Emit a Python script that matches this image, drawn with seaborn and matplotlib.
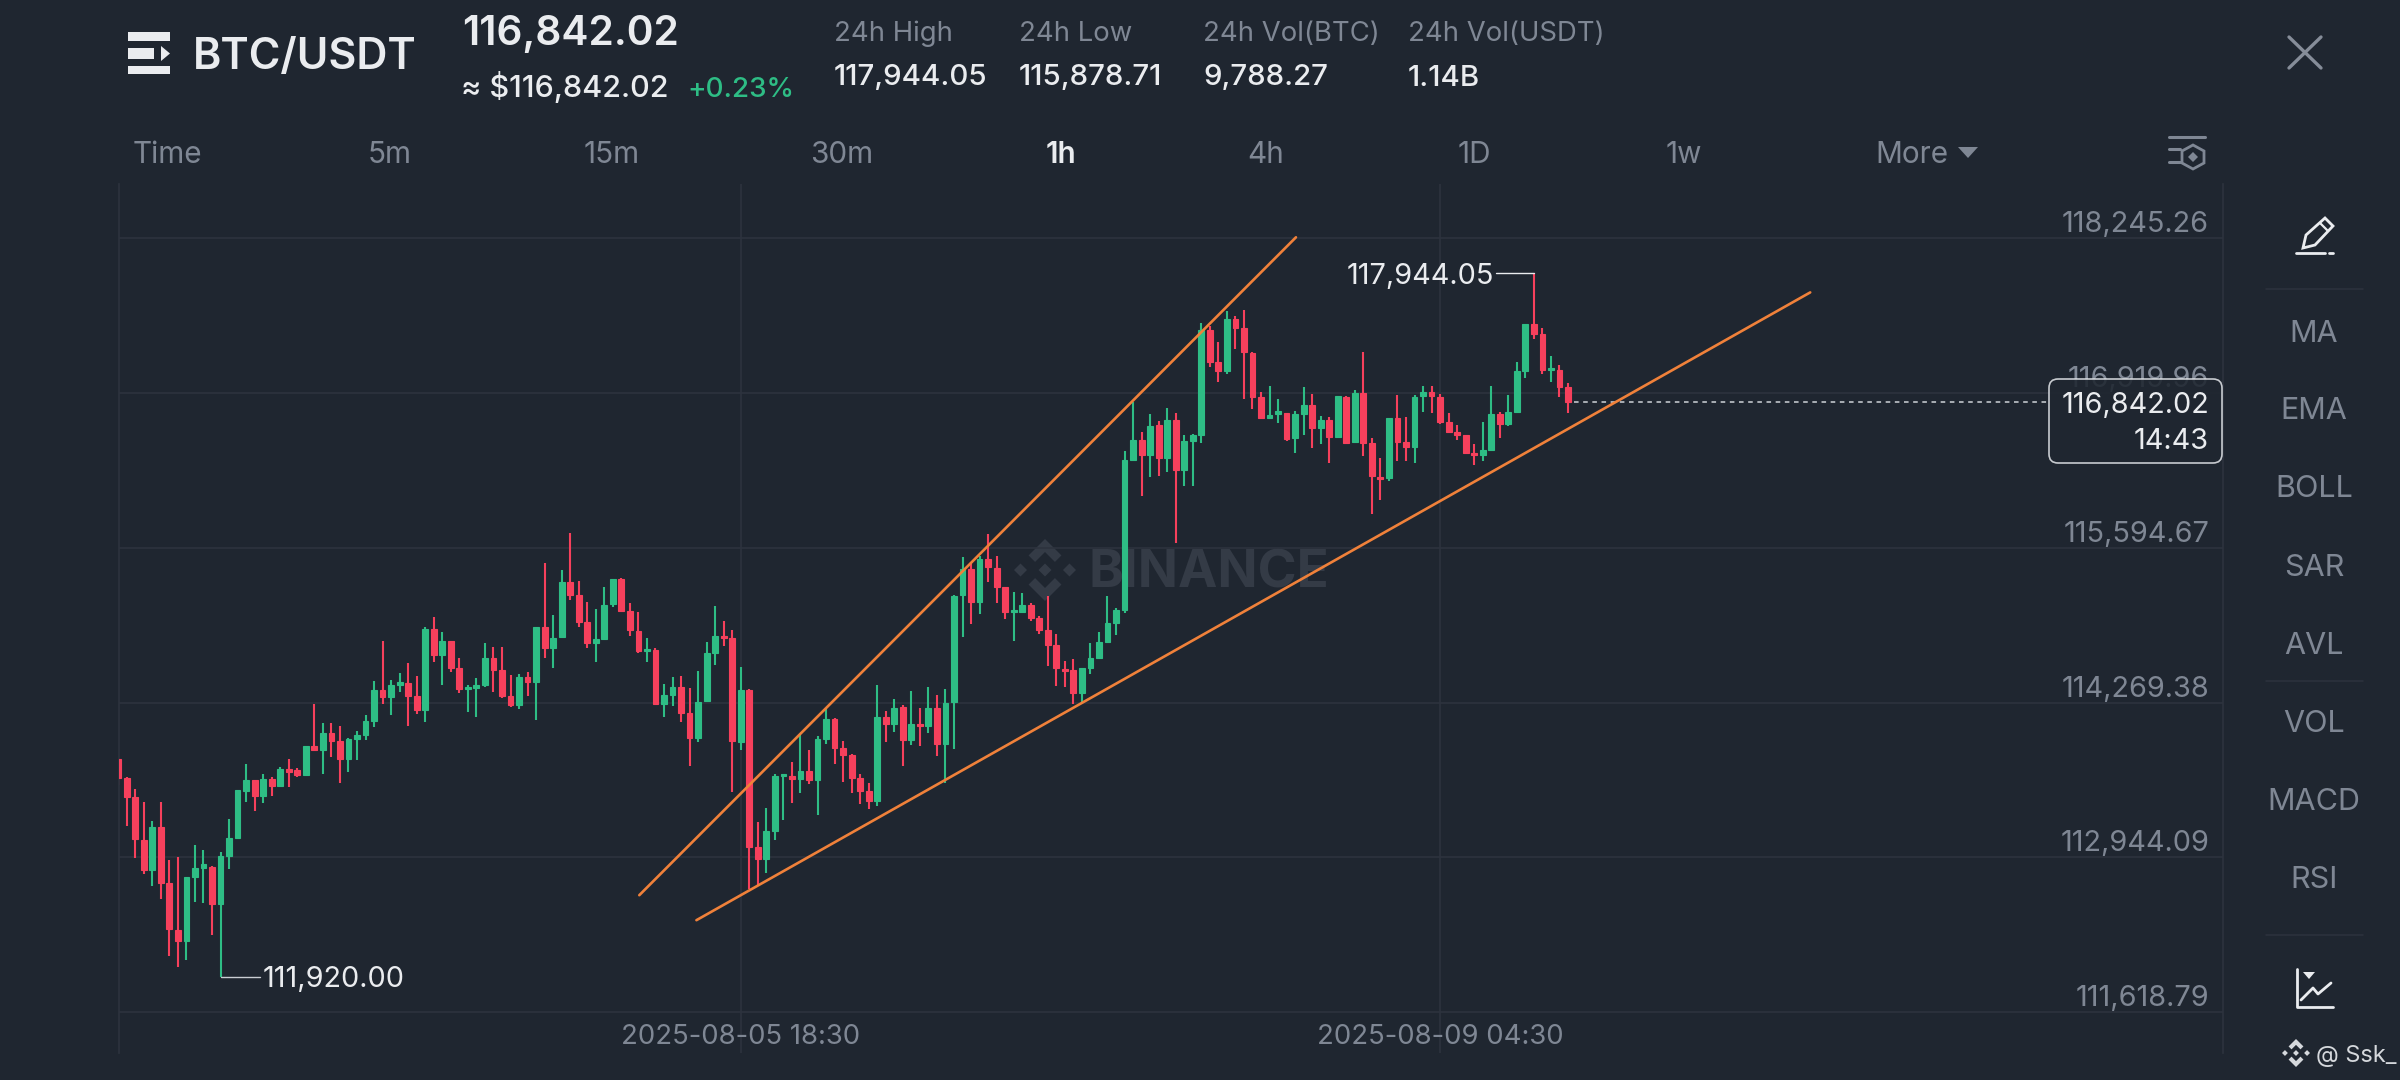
import numpy as np
import pandas as pd
import matplotlib.pyplot as plt
import seaborn as sns
from matplotlib.patches import FancyBboxPatch, Polygon

# Candles (BTC/USDT, 1h)
opens = [
    113786, 113620, 113457, 113096, 112839, 113199, 112721, 112324, 112226, 112779,
    112853, 112862, 112541, 112953, 113105, 113514, 113603, 113465, 113614, 113557,
    113697, 113691, 113651, 113898, 113860, 114006, 113938, 113789, 113958, 113992,
    114115, 114378, 114313, 114421, 114436, 114324, 114207, 114899, 114673, 114796,
    114567, 114381, 114390, 114421, 114650, 114547, 114324, 114250, 114490, 114444,
    114914, 114739, 114828, 115300, 115191, 114957, 114776, 114813, 115111, 115326,
    115051, 114885, 114708, 114719, 114258, 114335, 114404, 114178, 113966, 114281,
    114693, 114839, 114825, 113935, 114378, 113036, 112930, 113171, 113640, 113640,
    113614, 113686, 113606, 113961, 114127, 113878, 113820, 113620, 113508, 113428,
    114144, 114086, 114230, 113949, 114089, 114069, 114224, 113915, 114270, 115188,
    115412, 115134, 115497, 115423, 115257, 115048, 115045, 115105, 114991, 114888,
    114762, 114559, 114544, 114350, 114567, 114647, 114790, 114947, 115059, 116347,
    116518, 116392, 116644, 116364, 116690, 116264, 116513, 116564, 117463, 117182,
    117108, 117554, 117474, 117265, 116890, 116702, 116742, 116750, 116533, 116742,
    116816, 116621, 116687, 116547, 116890, 116501, 116919, 116493, 116204, 116195,
    116710, 116498, 116458, 116893, 116933, 116890, 116676, 116584, 116564, 116404,
    116387, 116433, 116739, 116653, 116759, 117111, 117511, 117426, 117114, 117117,
    116971,
]
closes = [
    113620, 113457, 113099, 112839, 113199, 112721, 112326, 112226, 112776, 112856,
    112882, 112541, 112953, 113105, 113517, 113603, 113465, 113614, 113557, 113697,
    113677, 113649, 113898, 113860, 114009, 113938, 113789, 113961, 113995, 114115,
    114378, 114313, 114421, 114444, 114324, 114207, 114902, 114673, 114796, 114567,
    114384, 114404, 114421, 114653, 114547, 114324, 114250, 114490, 114444, 114914,
    114739, 114825, 115300, 115194, 114959, 114779, 114811, 115108, 115326, 115051,
    114888, 114708, 114730, 114258, 114335, 114401, 114178, 113969, 114278, 114693,
    114839, 114819, 113938, 114378, 113036, 112930, 113171, 113640, 113657, 113617,
    113686, 113606, 113958, 114127, 113880, 113823, 113623, 113511, 113428, 114144,
    114086, 114224, 113949, 114089, 114069, 114224, 113915, 114267, 115185, 115414,
    115134, 115500, 115426, 115263, 115048, 115065, 115105, 114994, 114891, 114765,
    114567, 114542, 114350, 114564, 114647, 114785, 114947, 115062, 116347, 116518,
    116392, 116641, 116367, 116690, 116261, 116510, 116558, 117463, 117182, 117108,
    117554, 117474, 117268, 116890, 116702, 116736, 116762, 116530, 116742, 116816,
    116621, 116687, 116547, 116893, 116495, 116919, 116495, 116209, 116186, 116710,
    116501, 116458, 116890, 116933, 116893, 116676, 116584, 116564, 116404, 116387,
    116433, 116739, 116656, 116756, 117108, 117511, 117428, 117114, 117131, 116973,
    116842.02,
]
highs = [
    113786, 113629, 113526, 113417, 113256, 113414, 112919, 112942, 112776, 113053,
    113008, 112867, 112987, 113268, 113517, 113740, 113603, 113657, 113634, 113714,
    113786, 113709, 113898, 114258, 114095, 114095, 114064, 113963, 114026, 114161,
    114456, 114799, 114464, 114521, 114610, 114499, 114914, 114999, 114876, 114799,
    114650, 114418, 114479, 114776, 114748, 114742, 114504, 114516, 114533, 114914,
    115466, 115019, 115406, 115721, 115311, 115131, 115074, 115257, 115326, 115337,
    115125, 115045, 114825, 114736, 114427, 114484, 114499, 114393, 114539, 114791,
    115094, 114968, 114891, 114573, 114384, 113245, 113362, 113657, 113660, 113760,
    113992, 113860, 113986, 114221, 114135, 113943, 113829, 113654, 113577, 114416,
    114195, 114298, 114244, 114367, 114224, 114401, 114330, 114387, 115191, 115515,
    115475, 115523, 115715, 115523, 115260, 115220, 115208, 115120, 115014, 115185,
    114856, 114622, 114645, 114564, 114782, 114874, 115179, 115076, 116427, 116839,
    116587, 116742, 116679, 116790, 116747, 116558, 116570, 117523, 117497, 117354,
    117623, 117577, 117632, 117268, 116925, 116982, 116870, 116753, 116765, 116973,
    116916, 116724, 116713, 116896, 116893, 116945, 117274, 116538, 116367, 116710,
    116899, 116719, 116899, 116979, 116979, 116916, 116750, 116650, 116564, 116481,
    116676, 116982, 116756, 116902, 117182, 117511, 117944.05, 117474, 117240, 117157,
    117002,
]
lows = [
    113563, 113216, 112939, 112801, 112698, 112584, 112097, 112003, 112066, 112561,
    112552, 112275, 111920, 112842, 113099, 113417, 113339, 113405, 113468, 113557,
    113548, 113629, 113651, 113860, 113654, 113803, 113577, 113671, 113775, 113949,
    114061, 114258, 114164, 114361, 114064, 114175, 114106, 114619, 114418, 114527,
    114347, 114187, 114147, 114401, 114361, 114304, 114235, 114215, 114327, 114121,
    114653, 114562, 114828, 115148, 114914, 114733, 114616, 114813, 115088, 115051,
    114842, 114696, 114616, 114258, 114149, 114241, 114104, 113726, 113929, 114281,
    114587, 114750, 113500, 113866, 112675, 112704, 112813, 113093, 113259, 113405,
    113494, 113568, 113302, 113918, 113746, 113588, 113491, 113400, 113354, 113385,
    113932, 114021, 113729, 113906, 113898, 114006, 113809, 113577, 113869, 114833,
    114942, 115025, 115303, 115120, 114988, 114793, 115045, 114965, 114856, 114582,
    114407, 114404, 114258, 114275, 114510, 114647, 114790, 114844, 115039, 116347,
    116038, 116201, 116206, 116244, 115634, 116123, 116123, 116493, 117142, 117014,
    117082, 117297, 116873, 116787, 116702, 116702, 116667, 116507, 116404, 116561,
    116450, 116484, 116321, 116547, 116495, 116501, 116384, 115880, 116006, 116163,
    116338, 116338, 116321, 116756, 116753, 116659, 116578, 116521, 116398, 116304,
    116341, 116421, 116536, 116636, 116759, 117051, 117386, 117082, 117014, 116882,
    116750,
]

price_ticks = [118245.26, 116919.96, 115594.67, 114269.38, 112944.09, 111618.79]
price_labels = ['118,245.26', '116,919.96', '115,594.67', '114,269.38', '112,944.09', '111,618.79']
date_ticks = [73, 155]
date_labels = ['2025-08-05 18:30', '2025-08-09 04:30']

# hand drawn trend lines (candle index, price)
upper_trend_x = [61.1, 138.1]
upper_trend_y = [112619, 118254]
lower_trend_x = [67.8, 198.4]
lower_trend_y = [112405, 117782]

last_price = 116842.02
high_price = 117944.05
low_price = 111920.00

interval_tabs = ['5m', '15m', '30m', '1h', '4h', '1D', '1w']
indicators = ['MA', 'EMA', 'BOLL', 'SAR', 'AVL', 'VOL', 'MACD', 'RSI']

BG = '#1f2630'
GRID = '#2d333e'
GREEN = '#2ebd85'
RED = '#f6405c'
ORANGE = '#f0813a'
GREY = '#7f8794'
WHITE = '#eaecef'
CHART_FONT = 20.8

sns.set_theme(style='dark', rc={'figure.facecolor': BG, 'axes.facecolor': BG})
plt.rcParams['font.family'] = ['Inter', 'DejaVu Sans']

df = pd.DataFrame({'t': np.arange(len(opens)), 'open': opens, 'close': closes,
                   'high': highs, 'low': lows})
df['body_low'] = df[['open', 'close']].min(axis=1)
df['body'] = (df['close'] - df['open']).abs()
up = df[df['close'] >= df['open']]
down = df[df['close'] < df['open']]

W, H = 2400, 1080
fig = plt.figure(figsize=(24, 10.8), dpi=100)


def px_axes(z):
    a = fig.add_axes([0, 0, 1, 1], zorder=z)
    a.set_xlim(0, W)
    a.set_ylim(H, 0)
    a.axis('off')
    a.patch.set_alpha(0)
    return a


def binance_logo(a, cx, cy, r, color):
    pieces = [
        [(0, -1), (0.53, -0.47), (0.32, -0.26), (0, -0.58), (-0.32, -0.26), (-0.53, -0.47)],
        [(0, 1), (0.53, 0.47), (0.32, 0.26), (0, 0.58), (-0.32, 0.26), (-0.53, 0.47)],
        [(0, -0.21), (0.21, 0), (0, 0.21), (-0.21, 0)],
        [(-0.79, -0.21), (-0.58, 0), (-0.79, 0.21), (-1, 0)],
        [(0.79, -0.21), (1, 0), (0.79, 0.21), (0.58, 0)],
    ]
    for p in pieces:
        a.add_patch(Polygon([(cx + r * x, cy + r * y) for x, y in p], closed=True,
                            facecolor=color, edgecolor='none'))


# watermark sits under the chart
under = px_axes(0)
binance_logo(under, 1045, 570, 31, '#343b46')
under.text(1088, 588, 'BINANCE', color='#343b46', fontsize=38, fontweight='bold', va='baseline')

# main chart
ax = fig.add_axes([119 / W, 1 - 1053 / H, (2223 - 119) / W, (1053 - 184) / H], zorder=1)
ax.patch.set_alpha(0)

ax.vlines(up['t'], up['low'], up['high'], color=GREEN, linewidth=1.5, zorder=3)
ax.vlines(down['t'], down['low'], down['high'], color=RED, linewidth=1.5, zorder=3)
sns.barplot(data=up, x='t', y='body', bottom=up['body_low'], native_scale=True, width=0.68,
            color=GREEN, saturation=1, errorbar=None, linewidth=0.8, edgecolor=GREEN,
            zorder=3, ax=ax)
sns.barplot(data=down, x='t', y='body', bottom=down['body_low'], native_scale=True, width=0.68,
            color=RED, saturation=1, errorbar=None, linewidth=0.8, edgecolor=RED,
            zorder=3, ax=ax)

ax.plot(upper_trend_x, upper_trend_y, color=ORANGE, linewidth=1.9, zorder=4)
ax.plot(lower_trend_x, lower_trend_y, color=ORANGE, linewidth=1.9, zorder=4)

# last price, high and low markers
ax.plot([170.7, 226.3], [last_price, last_price], color='#cfd3d8', linewidth=1.1,
        linestyle=(0, (3, 3)), zorder=2)
ax.plot([166, 161.6], [high_price, high_price], color=WHITE, linewidth=1, zorder=4)
ax.plot([12, 16.6], [low_price, low_price], color='#c9cdd3', linewidth=1, zorder=4)
ax.annotate('117,944.05', (161.3, high_price), xytext=(0, -2), textcoords='offset points',
            color=WHITE, fontsize=CHART_FONT, ha='right', va='center')
ax.annotate('111,920.00', (16.9, low_price), xytext=(0, -2), textcoords='offset points',
            color=WHITE, fontsize=CHART_FONT, ha='left', va='center')

ax.set_xlim(0.094, 246.8)
ax.set_ylim(111267.5, 118710.4)
ax.set_xlabel('')
ax.set_ylabel('')
ax.yaxis.tick_right()
ax.set_yticks(price_ticks)
ax.set_yticklabels(price_labels, ha='right', va='bottom')
ax.set_xticks(date_ticks)
ax.set_xticklabels(date_labels)
ax.tick_params(axis='y', length=0, pad=-10, labelsize=CHART_FONT, labelcolor=GREY)
ax.tick_params(axis='x', length=0, pad=-21, labelsize=19.8, labelcolor=GREY)
ax.grid(True, color=GRID, linewidth=1.2)
ax.set_axisbelow(True)
for side in ['top', 'bottom']:
    ax.spines[side].set_visible(False)
for side in ['left', 'right']:
    ax.spines[side].set_color(GRID)
    ax.spines[side].set_linewidth(1.2)

# everything around the chart, in pixels
ui = px_axes(2)

# pair icon and header
ui.add_patch(plt.Rectangle((128, 32), 42, 9, color=WHITE, lw=0))
ui.add_patch(plt.Rectangle((128, 48), 26, 11, color=WHITE, lw=0))
ui.add_patch(Polygon([(161, 46), (170, 53.5), (161, 61)], closed=True, color=WHITE, lw=0))
ui.add_patch(plt.Rectangle((128, 66), 42, 8, color=WHITE, lw=0))
ui.text(193, 69, 'BTC/USDT', color=WHITE, fontsize=31, fontweight='semibold', va='baseline')
ui.text(462, 45, '116,842.02', color=WHITE, fontsize=29.3, fontweight='semibold', va='baseline')
ui.text(461, 97, '≈ $116,842.02', color=WHITE, fontsize=22, fontweight='medium', va='baseline')
ui.text(687, 97, '+0.23%', color=GREEN, fontsize=20, fontweight='medium', va='baseline')

for x, head, val in zip([834, 1019, 1203, 1408],
                        ['24h High', '24h Low', '24h Vol(BTC)', '24h Vol(USDT)'],
                        ['117,944.05', '115,878.71', '9,788.27', '1.14B']):
    ui.text(x, 34, head, color=GREY, fontsize=19.8, va='center')
    ui.text(x, 78, val, color=WHITE, fontsize=21.2, fontweight='medium', va='center')

# interval tabs
ui.text(133, 155, 'Time', color=GREY, fontsize=21.4, va='center')
for x, tab in zip([390, 612, 842, 1061, 1266, 1474, 1684], interval_tabs):
    active = tab == '1h'
    ui.text(x, 155, tab, color=WHITE if active else GREY, fontsize=21.4, ha='center', va='center',
            fontweight='semibold' if active else 'normal')
ui.text(1875, 155, 'More', color=GREY, fontsize=21.4, va='center')
ui.add_patch(Polygon([(1958, 147), (1978, 147), (1968, 158)], closed=True, color=GREY, lw=0))

# layout settings icon
ui.plot([2169, 2205], [137, 137], color=GREY, lw=2.2)
ui.plot([2169, 2180], [149, 149], color=GREY, lw=2.2)
ui.plot([2169, 2180], [162, 162], color=GREY, lw=2.2)
ui.add_patch(Polygon([(2193, 145), (2204, 151), (2204, 163), (2193, 169), (2182, 163), (2182, 151)],
                     closed=True, fill=False, edgecolor=GREY, lw=2))
ui.add_patch(Polygon([(2193, 152), (2198, 157), (2193, 162), (2188, 157)], closed=True, color=GREY, lw=0))

# close button
ui.plot([2289, 2321], [37, 68], color='#868d99', lw=2.4)
ui.plot([2289, 2321], [68, 37], color='#868d99', lw=2.4)

# price box on the right
ui.add_patch(FancyBboxPatch((2057, 387), 157, 68, boxstyle='round,pad=8,rounding_size=9',
                            facecolor=BG, edgecolor='#dfe2e6', linewidth=1.2, alpha=0.88))
ui.text(2209, 413, '116,842.02', color=WHITE, fontsize=CHART_FONT, ha='right', va='baseline')
ui.text(2209, 449, '14:43', color=WHITE, fontsize=CHART_FONT, ha='right', va='baseline')

# side panel
for y, name in zip([334, 411, 489, 568, 646, 724, 802, 880], indicators):
    ui.text(2314, y, name, color=GREY, fontsize=22, ha='center', va='center')
for y in [289, 681, 935]:
    ui.plot([2266, 2363], [y, y], color=GRID, lw=1.1)

# pencil
ui.add_patch(Polygon([(2303, 248), (2306, 235), (2325, 218), (2333, 226), (2315, 245)], closed=True,
                     fill=False, edgecolor=WHITE, lw=2))
ui.plot([2320, 2328], [223, 231], color=WHITE, lw=1.6)
ui.plot([2296, 2325], [253, 253], color=WHITE, lw=2)
ui.plot([2329, 2333], [253, 253], color=WHITE, lw=2)

# chart type icon
ui.plot([2297, 2297, 2333], [969, 1007, 1007], color=WHITE, lw=2)
ui.plot([2301, 2313, 2318, 2331], [1000, 988, 994, 983], color=WHITE, lw=2)
ui.add_patch(Polygon([(2303, 972), (2315, 972), (2309, 979)], closed=True, color=WHITE, lw=0))

# footer handle
binance_logo(ui, 2296, 1053, 14, '#d5d8dc')
ui.text(2316, 1062, '@ Ssk_', color='#d5d8dc', fontsize=17, va='baseline')

fig.savefig('out.png', dpi=100, facecolor=BG)
plt.close(fig)
